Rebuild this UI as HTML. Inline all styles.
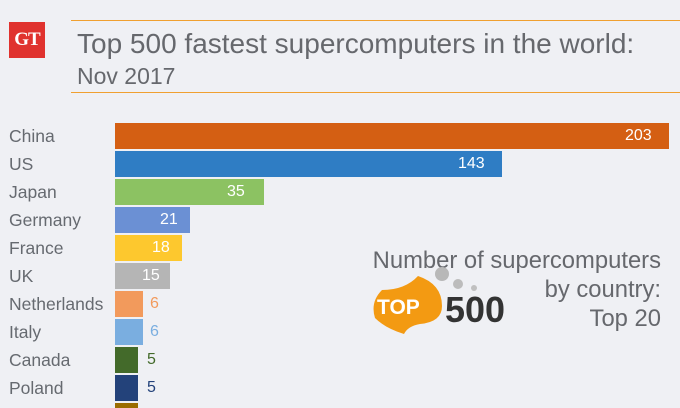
<!DOCTYPE html>
<html><head><style>
html,body{margin:0;width:680px;height:408px;overflow:hidden}
body{background:#eff0f4;font-family:"Liberation Sans",sans-serif;position:relative}
.a{position:absolute}
.lbl{position:absolute;left:9px;font-size:17.5px;color:#666a70;line-height:28px}
.bar{position:absolute;left:115px;height:26px}
.v{position:absolute;font-size:16px;line-height:26px}
</style></head><body>
<div class="a" style="left:9px;top:22px;width:36px;height:36px;background:#e0322e;color:#fff;font-family:'Liberation Serif',serif;font-weight:bold;font-size:19px;line-height:36px;text-align:center;letter-spacing:-1px">GT</div>
<div class="a" style="left:71px;top:20px;width:609px;height:1px;background:#f0a030"></div>
<div class="a" style="left:71px;top:92px;width:609px;height:1px;background:#f0a030"></div>
<div class="a" style="left:77px;top:28px;font-size:28px;color:#66686d;line-height:31px">Top 500 fastest supercomputers in the world:<br><span style="font-size:23px">Nov 2017</span></div>

<div class="lbl" style="top:122px">China</div><div class="bar" style="top:123px;width:554px;background:#d45f13"></div><div class="v" style="top:123px;left:625px;color:#fff">203</div>
<div class="lbl" style="top:150px">US</div><div class="bar" style="top:151px;width:387px;background:#2f7dc4"></div><div class="v" style="top:151px;left:458px;color:#fff">143</div>
<div class="lbl" style="top:178px">Japan</div><div class="bar" style="top:179px;width:149px;background:#8cc262"></div><div class="v" style="top:179px;left:227px;color:#fff">35</div>
<div class="lbl" style="top:206px">Germany</div><div class="bar" style="top:207px;width:75px;background:#6b90d4"></div><div class="v" style="top:207px;left:160px;color:#fff">21</div>
<div class="lbl" style="top:234px">France</div><div class="bar" style="top:235px;width:67px;background:#fdc82e"></div><div class="v" style="top:235px;left:152px;color:#fff">18</div>
<div class="lbl" style="top:262px">UK</div><div class="bar" style="top:263px;width:55px;background:#b5b5b5"></div><div class="v" style="top:263px;left:142px;color:#fff">15</div>
<div class="lbl" style="top:290px">Netherlands</div><div class="bar" style="top:291px;width:28px;background:#f29a5c"></div><div class="v" style="top:291px;left:150px;color:#f29a5c">6</div>
<div class="lbl" style="top:318px">Italy</div><div class="bar" style="top:319px;width:28px;background:#7aaee0"></div><div class="v" style="top:319px;left:150px;color:#7aaee0">6</div>
<div class="lbl" style="top:346px">Canada</div><div class="bar" style="top:347px;width:23px;background:#436a2a"></div><div class="v" style="top:347px;left:147px;color:#436a2a">5</div>
<div class="lbl" style="top:374px">Poland</div><div class="bar" style="top:375px;width:23px;background:#23427a"></div><div class="v" style="top:375px;left:147px;color:#23427a">5</div>
<div class="bar" style="top:403px;width:23px;height:5px;background:#9a6c00"></div>

<div class="a" style="right:19px;top:246px;text-align:right;font-size:23.8px;line-height:29px;color:#66686d">Number of supercomputers<br>by country:<br>Top 20</div>
<svg class="a" style="left:370px;top:262px" width="145" height="80">
<circle cx="72" cy="12" r="7" fill="#b8b8b8"/><circle cx="88" cy="22" r="5" fill="#bcbcbc"/><circle cx="104" cy="26" r="3" fill="#c0c0c0"/>
<path d="M12 28 Q35 28 48 14 Q72 22 72 44 Q72 60 50 62 Q38 64 34 72 Q15 66 5 56 Q0 40 12 28Z" fill="#f39a12"/>
<text x="7" y="52" font-family="Liberation Sans" font-weight="bold" font-size="21" fill="#fff">TOP</text>
<text x="75" y="60" font-family="Liberation Sans" font-weight="bold" font-size="36" fill="#333" textLength="60" lengthAdjust="spacingAndGlyphs">500</text>
</svg>
</body></html>
